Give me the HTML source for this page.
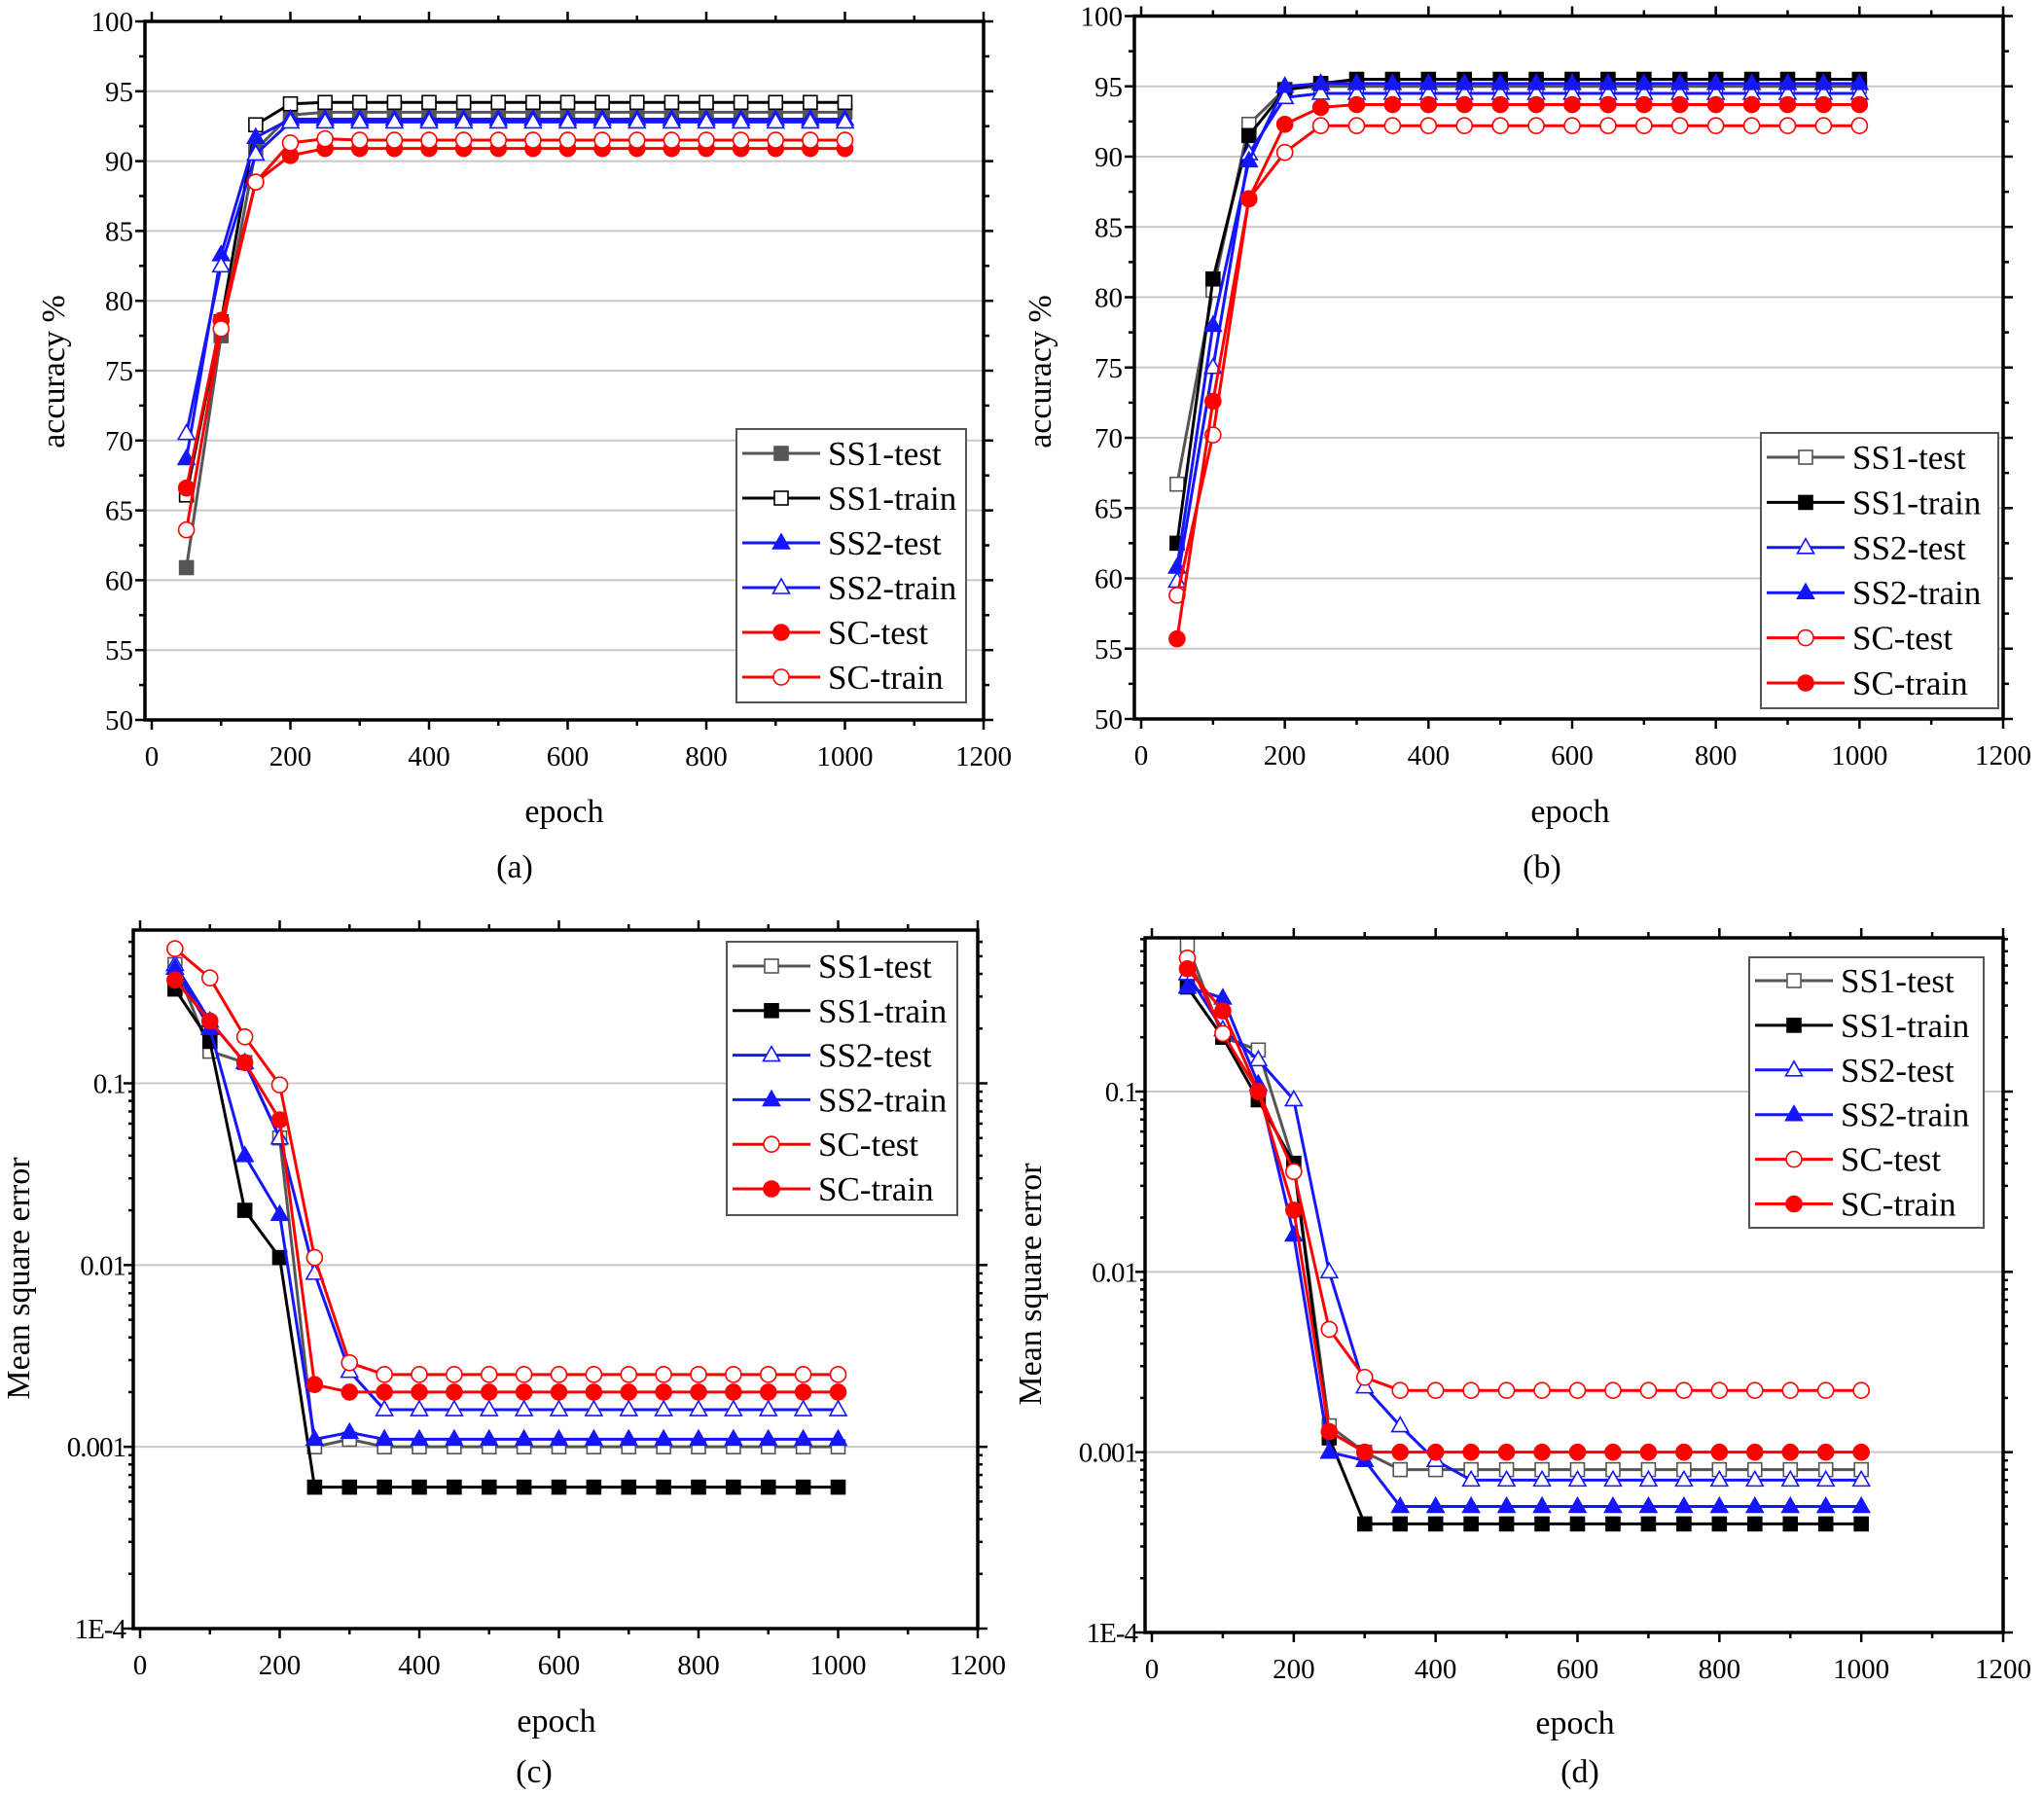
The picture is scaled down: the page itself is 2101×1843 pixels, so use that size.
<!DOCTYPE html>
<html><head><meta charset="utf-8"><style>
html,body{margin:0;padding:0;background:#fff;}
svg{display:block;}
text{font-family:"Liberation Serif","Times New Roman",serif;}
</style></head><body>
<svg id="s" width="2101" height="1843" xmlns="http://www.w3.org/2000/svg" font-family="Liberation Serif, serif"></svg>
<script>
const S=document.getElementById('s');let out='';
const FF='font-family="Liberation Serif, serif"';
const C={g:'#555555',k:'#000000',b:'#1515ff',r:'#ff0000'};
function marker(x,y,t,col,fill){
  const f=fill?col:'#fff';
  if(t==='sq')return `<rect x="${x-7}" y="${y-7}" width="14" height="14" fill="${f}" stroke="${col}" stroke-width="1.6"/>`;
  if(t==='tri')return `<polygon points="${x},${y-9} ${x-8.5},${y+6} ${x+8.5},${y+6}" fill="${f}" stroke="${col}" stroke-width="1.6"/>`;
  return `<circle cx="${x}" cy="${y}" r="8" fill="${f}" stroke="${col}" stroke-width="1.6"/>`;
}
function ext(a,n){while(a.length<n)a.push(a[a.length-1]);return a;}
function panel(p){
  const X=v=>p.x0+(p.x1200-p.x0)*v/1200;
  const Y=p.log?(v=>p.yb+(Math.log10(v)+4)*(p.yt0-p.yb)/3):(v=>p.yb+(v-50)*(p.yt0-p.yb)/50);
  const L=p.left,R=X(1200),T=p.top,B=p.yb;
  if(p.log){[0.1,0.01,0.001].forEach(v=>out+=`<line x1="${L}" x2="${R}" y1="${Y(v)}" y2="${Y(v)}" stroke="#c8c8c8" stroke-width="2"/>`);}
  else{for(let v=55;v<100;v+=5)out+=`<line x1="${L}" x2="${R}" y1="${Y(v)}" y2="${Y(v)}" stroke="#c8c8c8" stroke-width="2"/>`;}
  let tk='';
  for(let v=0;v<=1200;v+=100){const x=X(v),len=v%200==0?10:6;tk+=`<line x1="${x}" x2="${x}" y1="${B}" y2="${B+len}"/><line x1="${x}" x2="${x}" y1="${T}" y2="${T-len}"/>`;}
  const yt=[];
  if(p.log){for(let d=-4;d<0;d++){yt.push([Math.pow(10,d),10]);for(let m=2;m<10;m++){const v=m*Math.pow(10,d);if(Y(v)>=T)yt.push([v,5]);}}}
  else{for(let v=50;v<=100;v+=2.5)yt.push([v,v%5==0?10:6]);}
  yt.forEach(([v,len])=>{const y=Y(v);tk+=`<line x1="${L}" x2="${L-len}" y1="${y}" y2="${y}"/><line x1="${R}" x2="${R+len}" y1="${y}" y2="${y}"/>`;});
  out+=`<g stroke="#000" stroke-width="2.5">${tk}</g>`;
  p.series.forEach(s=>{
    const d=ext(s.d.slice(),20);
    const pts=d.map((v,i)=>[X(50*(i+1)),Y(v)]);
    out+=`<polyline points="${pts.map(q=>q.join(',')).join(' ')}" fill="none" stroke="${C[s.c]}" stroke-width="3"/>`;
    pts.forEach(q=>out+=marker(q[0],q[1],s.m,C[s.c],s.f));
  });
  out+=`<rect x="${L}" y="${T}" width="${R-L}" height="${B-T}" fill="none" stroke="#000" stroke-width="3.5"/>`;
  for(let v=0;v<=1200;v+=200)out+=`<text ${FF} x="${X(v)}" y="${B+47}" font-size="29" text-anchor="middle">${v}</text>`;
  if(p.log){[[0.1,'0.1'],[0.01,'0.01'],[0.001,'0.001'],[0.0001,'1E-4']].forEach(([v,t])=>out+=`<text ${FF} x="${L-8}" y="${Y(v)+10}" font-size="29" text-anchor="end" letter-spacing="-1">${t}</text>`);}
  else{for(let v=50;v<=100;v+=5)out+=`<text ${FF} x="${L-12}" y="${Y(v)+10}" font-size="29" text-anchor="end">${v}</text>`;}
  out+=`<text ${FF} x="${p.ex}" y="${p.ey}" font-size="34" text-anchor="middle">epoch</text>`;
  out+=`<text ${FF} x="${p.px}" y="${p.py}" font-size="34" text-anchor="middle">${p.lab}</text>`;
  out+=`<text ${FF} transform="translate(${p.ylx},${p.yly}) rotate(-90)" font-size="34" text-anchor="middle">${p.yl}</text>`;
  const lg=p.leg;
  out+=`<rect x="${lg.x}" y="${lg.y}" width="${lg.w}" height="${lg.h}" fill="#fff" stroke="#555" stroke-width="2"/>`;
  p.series.forEach((s,i)=>{const y=lg.r0+i*lg.dr;
    out+=`<line x1="${lg.x+6}" x2="${lg.x+86}" y1="${y}" y2="${y}" stroke="${C[s.c]}" stroke-width="3"/>`+marker(lg.x+46,y,s.m,C[s.c],s.f);
    out+=`<text ${FF} x="${lg.x+94}" y="${y+12}" font-size="35">${s.n}</text>`;});
}
panel({x0:156,x1200:1011,left:149,top:22,yb:740,yt0:22,log:false,ex:580,ey:845,px:529,py:902,lab:'(a)',ylx:66,yly:382,yl:'accuracy %',
 leg:{x:757,y:441,w:236,h:281,r0:466,dr:46},
 series:[
 {n:'SS1-test',c:'g',m:'sq',f:1,d:[60.9,77.5,90.8,93.3,93.5]},
 {n:'SS1-train',c:'k',m:'sq',f:0,d:[66.1,78.5,92.6,94.1,94.2]},
 {n:'SS2-test',c:'b',m:'tri',f:1,d:[68.7,83.3,91.7,93.0,93.0]},
 {n:'SS2-train',c:'b',m:'tri',f:0,d:[70.5,82.5,90.5,92.8,92.8]},
 {n:'SC-test',c:'r',m:'circ',f:1,d:[66.6,78.6,88.5,90.4,90.9]},
 {n:'SC-train',c:'r',m:'circ',f:0,d:[63.6,78.0,88.5,91.3,91.6,91.5]}]});
panel({x0:1173,x1200:2059,left:1166,top:16.5,yb:739,yt0:16.5,log:false,ex:1614,ey:845,px:1585,py:902,lab:'(b)',ylx:1080,yly:382,yl:'accuracy %',
 leg:{x:1810,y:445,w:244,h:283,r0:470,dr:46.4},
 series:[
 {n:'SS1-test',c:'g',m:'sq',f:0,d:[66.7,80.5,92.3,94.8,95.0]},
 {n:'SS1-train',c:'k',m:'sq',f:1,d:[62.5,81.3,91.5,94.7,95.2,95.5]},
 {n:'SS2-test',c:'b',m:'tri',f:0,d:[59.8,75.0,90.2,94.2,94.5]},
 {n:'SS2-train',c:'b',m:'tri',f:1,d:[60.8,78.0,89.7,95.0,95.2]},
 {n:'SC-test',c:'r',m:'circ',f:0,d:[58.8,70.2,87.0,90.3,92.2]},
 {n:'SC-train',c:'r',m:'circ',f:1,d:[55.7,72.6,87.0,92.3,93.5,93.7]}]});
panel({x0:144,x1200:1005,left:137,top:956,yb:1674,yt0:1113.5,log:true,ex:572,ey:1780,px:549,py:1832,lab:'(c)',ylx:30,yly:1314,yl:'Mean square error',
 leg:{x:747,y:968,w:237,h:281,r0:993,dr:45.8},
 series:[
 {n:'SS1-test',c:'g',m:'sq',f:0,d:[0.45,0.15,0.13,0.05,0.001,0.0011,0.001]},
 {n:'SS1-train',c:'k',m:'sq',f:1,d:[0.33,0.17,0.02,0.011,0.0006]},
 {n:'SS2-test',c:'b',m:'tri',f:0,d:[0.45,0.22,0.13,0.05,0.009,0.0026,0.0016]},
 {n:'SS2-train',c:'b',m:'tri',f:1,d:[0.43,0.2,0.04,0.019,0.0011,0.0012,0.0011]},
 {n:'SC-test',c:'r',m:'circ',f:0,d:[0.55,0.38,0.18,0.098,0.011,0.0029,0.0025]},
 {n:'SC-train',c:'r',m:'circ',f:1,d:[0.37,0.22,0.13,0.063,0.0022,0.002]}]});
panel({x0:1184,x1200:2059,left:1177,top:964,yb:1678,yt0:1122,log:true,ex:1619,ey:1782,px:1624,py:1832,lab:'(d)',ylx:1070,yly:1320,yl:'Mean square error',
 leg:{x:1798,y:984,w:241,h:278,r0:1008,dr:45.9},
 series:[
 {n:'SS1-test',c:'g',m:'sq',f:0,d:[0.65,0.2,0.17,0.04,0.0014,0.001,0.0008]},
 {n:'SS1-train',c:'k',m:'sq',f:1,d:[0.38,0.2,0.09,0.04,0.0012,0.0004]},
 {n:'SS2-test',c:'b',m:'tri',f:0,d:[0.45,0.22,0.15,0.09,0.01,0.0023,0.0014,0.0009,0.0007]},
 {n:'SS2-train',c:'b',m:'tri',f:1,d:[0.38,0.33,0.11,0.016,0.001,0.0009,0.0005]},
 {n:'SC-test',c:'r',m:'circ',f:0,d:[0.55,0.21,0.1,0.036,0.0048,0.0026,0.0022]},
 {n:'SC-train',c:'r',m:'circ',f:1,d:[0.48,0.28,0.1,0.022,0.0013,0.001]}]});
S.innerHTML=out;
</script>
</body></html>
